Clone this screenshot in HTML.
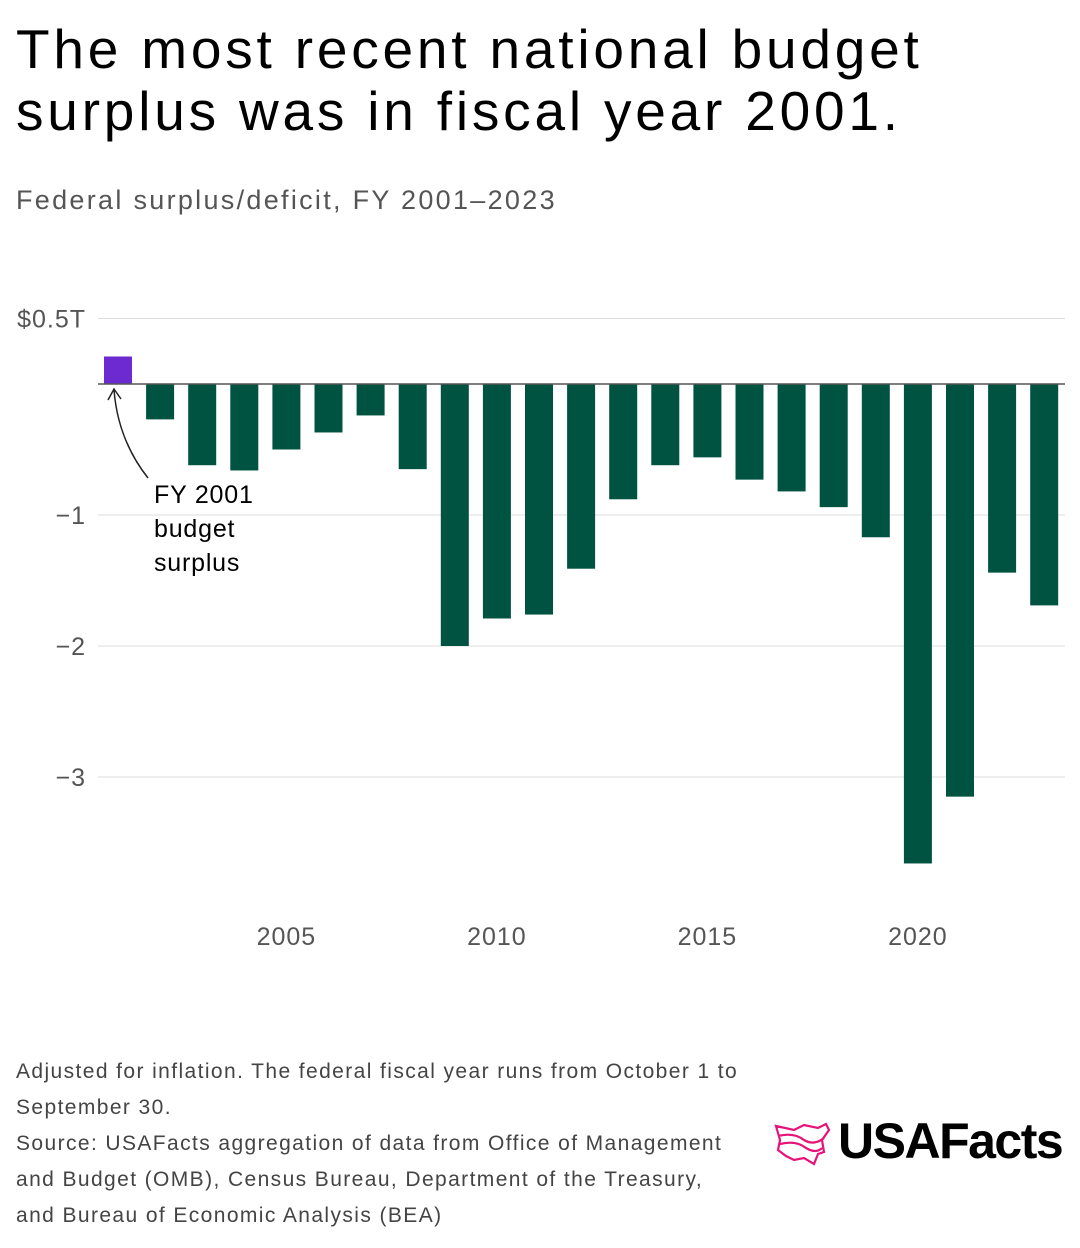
<!DOCTYPE html>
<html><head><meta charset="utf-8">
<style>
body{margin:0;width:1080px;height:1248px;background:#fff;font-family:"Liberation Sans",sans-serif;position:relative;overflow:hidden}
.t{position:absolute;left:16px;top:18px;font-size:55px;line-height:62px;color:#000;letter-spacing:3.8px;margin:0;font-weight:normal;white-space:nowrap}
.sub{position:absolute;left:16px;top:185px;font-size:27px;color:#555;letter-spacing:2.3px;white-space:nowrap}
.foot{position:absolute;left:16px;top:1054px;font-size:21px;line-height:36px;color:#444;white-space:nowrap;letter-spacing:1.4px}
svg{position:absolute;left:0;top:0}
</style></head><body>
<h1 class="t">The most recent national budget<br>surplus was in fiscal year 2001.</h1>
<div class="sub">Federal surplus/deficit, FY 2001–2023</div>
<svg id="c" width="1080" height="1000"></svg>
<div class="foot">Adjusted for inflation. The federal fiscal year runs from October 1 to<br>September 30.<br>Source: USAFacts aggregation of data from Office of Management<br>and Budget (OMB), Census Bureau, Department of the Treasury,<br>and Bureau of Economic Analysis (BEA)</div>
<div style="position:absolute;left:774px;top:1116px;width:300px;height:56px">
<svg width="58" height="50" viewBox="0 0 58 50" style="left:0;top:6px"><path d="M2 4 L20 8 L30 3 L44 6 L52 2 L55 8 L48 18 L50 30 L44 32 L40 42 L30 36 L20 38 L12 34 L4 28 L6 18 Z M4 14 Q20 10 30 18 Q40 24 50 16 M6 22 Q22 18 32 26 Q42 32 48 26" fill="none" stroke="#e6137a" stroke-width="2.2"/></svg>
<div style="position:absolute;left:64px;top:-4px;font-size:50px;font-weight:bold;letter-spacing:-1.5px;color:#000">USAFacts</div>
</div>
<script>
const years=[2001,2002,2003,2004,2005,2006,2007,2008,2009,2010,2011,2012,2013,2014,2015,2016,2017,2018,2019,2020,2021,2022,2023];
const values=[0.21,-0.27,-0.62,-0.66,-0.50,-0.37,-0.24,-0.65,-2.0,-1.79,-1.76,-1.41,-0.88,-0.62,-0.56,-0.73,-0.82,-0.94,-1.17,-3.66,-3.15,-1.44,-1.69];
const yTicks=[0.5,-1,-2,-3];
const yTickLabels=["$0.5T","−1","−2","−3"];
const xTicks=[2005,2010,2015,2020];
const NS="http://www.w3.org/2000/svg";
const svg=document.getElementById('c');
const y=v=>384-v*131;
const x=yr=>118+(yr-2001)*42.1;
function mk(t,a,txt){const e=document.createElementNS(NS,t);for(const k in a)e.setAttribute(k,a[k]);if(txt!==undefined)e.textContent=txt;svg.appendChild(e);return e;}
yTicks.forEach((v,i)=>{
 const g=mk('line',{x1:98,x2:1065,y1:y(v),y2:y(v),stroke:'#ddd','stroke-width':1});
 
 
 const t=mk('text',{x:86,y:y(v)+9,'text-anchor':'end','font-size':25,fill:'#555','font-family':'Liberation Sans','letter-spacing':1},yTickLabels[i]);
 
 
});
years.forEach((yr,i)=>{
 const v=values[i];
 const r=mk('rect',{x:x(yr)-14,width:28,y:Math.min(y(v),y(0)),height:Math.abs(y(v)-y(0)),fill:v>0?'#6b2bd0':'#005341'});
 
 
});
const z=mk('line',{x1:98,x2:1065,y1:y(0),y2:y(0),stroke:'#555','stroke-width':1.5});


xTicks.forEach(yr=>{
 const t=mk('text',{x:x(yr),y:945,'text-anchor':'middle','font-size':25,fill:'#555','font-family':'Liberation Sans','letter-spacing':1},String(yr));
 
 
});
const a=mk('path',{d:`M148 478 Q118 440 114 ${y(0)+6}`,fill:'none',stroke:'#222','stroke-width':1.5});


const ah=mk('path',{d:`M108 ${y(0)+16} L114 ${y(0)+5} L121 ${y(0)+15}`,fill:'none',stroke:'#222','stroke-width':1.5});


["FY 2001","budget","surplus"].forEach((s,i)=>{
 const t=mk('text',{x:154,y:503+i*34,'font-size':25,fill:'#000','font-family':'Liberation Sans','letter-spacing':0.8},s);
 
 
});
</script>
</body></html>
